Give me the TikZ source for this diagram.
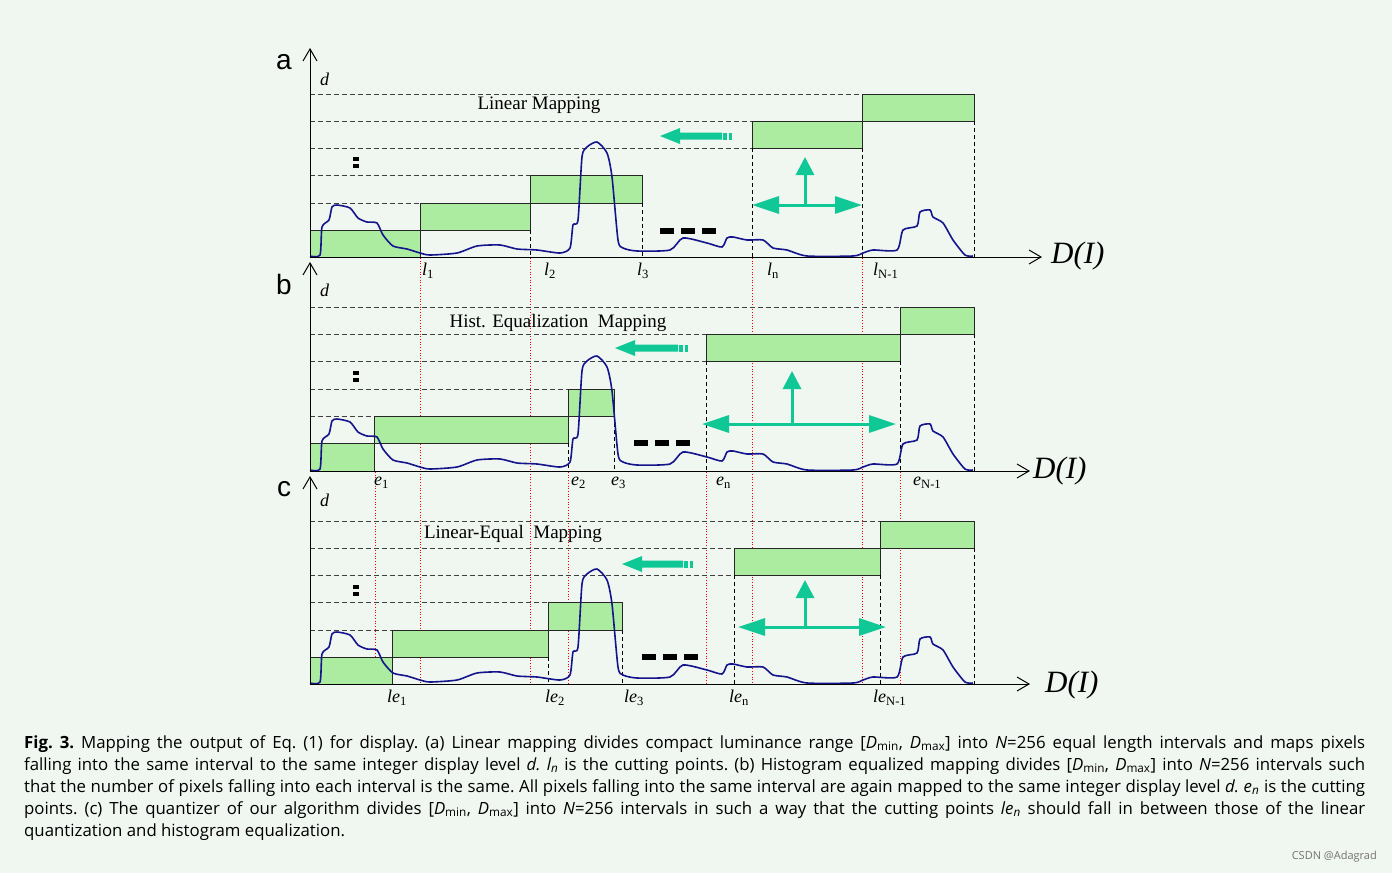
\documentclass[tikz,border=0pt]{standalone}
\usepackage{fontspec}
\setmainfont{Liberation Serif}
\newfontfamily\capfont{Open Sans}
\newfontfamily\lblfont{Liberation Sans}
\usetikzlibrary{arrows.meta}
\definecolor{bg}{RGB}{240,246,240}
\definecolor{boxg}{RGB}{172,236,160}
\definecolor{tealc}{RGB}{16,200,150}
\definecolor{curvec}{RGB}{20,20,140}
\tikzset{
 hdash/.style={black!75,dashed,dash pattern=on 5pt off 3pt,line width=0.8pt},
 vdash/.style={black,dashed,dash pattern=on 4pt off 3pt,line width=0.9pt},
 reddot/.style={red,dotted,line width=0.7pt},
 lvlbox/.style={draw=black!85,fill=boxg,line width=1pt},
 axis/.style={line width=1pt,-{Straight Barb[length=12pt,width=14pt]}},
 curve/.style={curvec,line width=1.6pt},
 lbl/.style={font=\fontsize{18}{18}\selectfont,anchor=west,inner sep=0pt},
 ttl/.style={font=\fontsize{19}{19}\selectfont,inner sep=0pt},
 dil/.style={font=\fontsize{31}{31}\selectfont\itshape,anchor=west,inner sep=0pt},
 plab/.style={font=\lblfont\fontsize{28}{28}\selectfont,inner sep=0pt},
 tarr2/.style={tealc,line width=3pt,{Triangle[length=27pt,width=17pt]}-{Triangle[length=27pt,width=17pt]}},
 tarr3/.style={tealc,line width=3pt,-{Triangle[length=18pt,width=18pt]}},
}
\newcommand{\thecurve}{plot[smooth,tension=0.4] coordinates{(310,256)(320,255)(322,227)(329,220)(332,207)(337,205)(350,208)(358,218)(367,222)(377,223)(383,235)(393,246)(407,249)(420,253)(430,255)(457,253)(477,246)(500,245)(517,249)(537,250)(560,253)(570,248)(573,225)(578,220)(582,157)(587,147)(597,142)(607,153)(612,177)(618,240)(623,248)(637,251)(670,250)(683,238)(707,243)(722,247)(727,238)(733,237)(747,240)(763,240)(773,248)(787,250)(807,256)(853,256)(863,253)(873,250)(897,250)(903,230)(917,226)(920,212)(930,210)(933,217)(943,223)(953,240)(965,255)(973,256)}}
\newcommand{\leftarr}[3]{% tip x, y, end x
 \fill[tealc] (#1,#2) -- (#1+20,#2-8) -- (#1+20,#2-3.5) -- (#3,#2-3.5) -- (#3,#2+3.5) -- (#1+20,#2+3.5) -- (#1+20,#2+8) -- cycle;
 \fill[tealc] (#3+1,#2-3.5) rectangle (#3+5,#2+3.5);
 \fill[tealc] (#3+7,#2-3.5) rectangle (#3+10,#2+3.5);}
\newcommand{\mydots}[2]{\fill (#1-3,#2-5) rectangle (#1+3,#2-1); \fill (#1-3,#2+2) rectangle (#1+3,#2+6);}
\newcommand{\hdashes}[2]{\foreach \k in {0,1,2}{\fill (#1+\k*21,#2-3) rectangle (#1+\k*21+14,#2+3);}}
\newcommand{\Dm}[1]{\textit{D}\textsubscript{#1}}
\begin{document}
\begin{tikzpicture}[x=1pt,y=-1pt]
\fill[bg] (0,0) rectangle (1392,873);
\useasboundingbox (0,0) rectangle (1392,873);
% red dotted verticals
\foreach \x in {420,530,752,862} \draw[reddot] (\x,258) -- (\x,684);
\foreach \x in {375,568,706,900} \draw[reddot] (\x,472) -- (\x,684);
% ---------------- panel a
\foreach \y/\e in {94/862,121/752,148/752,175/530,203/420} \draw[hdash] (310,\y) -- (\e,\y);
\draw[lvlbox] (310,230) rectangle (420,257);
\draw[lvlbox] (420,203) rectangle (530,230);
\draw[lvlbox] (530,175) rectangle (642,203);
\draw[lvlbox] (752,121) rectangle (862,148);
\draw[lvlbox] (862,94) rectangle (974,121);
\draw[vdash] (530,230) -- (530,257);
\draw[vdash] (642,203) -- (642,257);
\draw[vdash] (752,148) -- (752,257);
\draw[vdash] (862,148) -- (862,257);
\draw[vdash] (974,121) -- (974,257);
\draw[curve] \thecurve;
\draw[axis] (310,257) -- (310,48);
\draw[axis] (310,257) -- (1042,257);
\node[plab] (pa) at (284,62) {a};
\node[lbl] (da) at (320,79) {\itshape d};
\node[dil] (Da) at (1051,256) {D(I)};
\node[ttl] (ta) at (539,105) {Linear Mapping};
\node[lbl] (l1) at (422,271) {\textit{l}\textsubscript{1}};
\node[lbl] (l2) at (544,271) {\textit{l}\textsubscript{2}};
\node[lbl] (l3) at (637,271) {\textit{l}\textsubscript{3}};
\node[lbl] (ln) at (767,271) {\textit{l}\textsubscript{n}};
\node[lbl] (lN) at (873,271) {\textit{l}\textsubscript{N-1}};
\leftarr{660}{136}{722}
\coordinate (a1) at (752,205); \coordinate (a2) at (862,205);
\coordinate (a3) at (805,206); \coordinate (a4) at (805,157);
\draw[tarr2] (a1) -- (a2);
\draw[tarr3] (a3) -- (a4);
\mydots{356}{162}
\hdashes{660}{231}
% ---------------- panel b
\foreach \y/\e in {307/900,334/706,361/706,389/568,416/374} \draw[hdash] (310,\y) -- (\e,\y);
\draw[lvlbox] (310,443) rectangle (374,471);
\draw[lvlbox] (374,416) rectangle (568,443);
\draw[lvlbox] (568,389) rectangle (614,416);
\draw[lvlbox] (706,334) rectangle (900,361);
\draw[lvlbox] (900,307) rectangle (974,334);
\draw[vdash] (568,443) -- (568,471);
\draw[vdash] (614,416) -- (614,471);
\draw[vdash] (706,361) -- (706,471);
\draw[vdash] (900,361) -- (900,471);
\draw[vdash] (974,334) -- (974,471);
\begin{scope}[yshift=-214pt]\draw[curve] \thecurve;\end{scope}
\draw[axis] (310,471) -- (310,262);
\draw[axis] (310,471) -- (1030,471);
\node[plab] (pb) at (284,284) {b};
\node[lbl] (db) at (320,290) {\itshape d};
\node[dil] (Db) at (1033,471) {D(I)};
\node[ttl] (tb) at (558,323) {Hist. Equalization\ \ Mapping};
\node[lbl] (e1) at (374,483) {\textit{e}\textsubscript{1}};
\node[lbl] (e2) at (571,483) {\textit{e}\textsubscript{2}};
\node[lbl] (e3) at (611,483) {\textit{e}\textsubscript{3}};
\node[lbl] (en) at (716,483) {\textit{e}\textsubscript{n}};
\node[lbl] (eN) at (913,483) {\textit{e}\textsubscript{N-1}};
\leftarr{615}{348}{678}
\coordinate (b1) at (702,424); \coordinate (b2) at (896,424);
\coordinate (b3) at (792,425); \coordinate (b4) at (792,371);
\draw[tarr2] (b1) -- (b2);
\draw[tarr3] (b3) -- (b4);
\mydots{356}{376}
\hdashes{634}{443}
% ---------------- panel c
\foreach \y/\e in {521/880,548/734,575/734,602/548,630/392} \draw[hdash] (310,\y) -- (\e,\y);
\draw[lvlbox] (310,657) rectangle (392,684);
\draw[lvlbox] (392,630) rectangle (548,657);
\draw[lvlbox] (548,602) rectangle (622,630);
\draw[lvlbox] (734,548) rectangle (880,575);
\draw[lvlbox] (880,521) rectangle (974,548);
\draw[vdash] (548,657) -- (548,684);
\draw[vdash] (622,630) -- (622,684);
\draw[vdash] (734,575) -- (734,684);
\draw[vdash] (880,575) -- (880,684);
\draw[vdash] (974,548) -- (974,684);
\begin{scope}[yshift=-427pt]\draw[curve] \thecurve;\end{scope}
\draw[axis] (310,684) -- (310,476);
\draw[axis] (310,684) -- (1030,684);
\node[plab] (pc) at (284,489) {c};
\node[lbl] (dc) at (320,500) {\itshape d};
\node[dil] (Dc) at (1045,685) {D(I)};
\node[ttl] (tc) at (513,534) {Linear-Equal\ \ Mapping};
\node[lbl] (le1) at (387,698) {\textit{le}\textsubscript{1}};
\node[lbl] (le2) at (545,698) {\textit{le}\textsubscript{2}};
\node[lbl] (le3) at (624,698) {\textit{le}\textsubscript{3}};
\node[lbl] (len) at (729,698) {\textit{le}\textsubscript{n}};
\node[lbl] (leN) at (873,698) {\textit{le}\textsubscript{N-1}};
\leftarr{622}{564}{683}
\coordinate (c1) at (738,627); \coordinate (c2) at (886,627);
\coordinate (c3) at (805,628); \coordinate (c4) at (805,580);
\draw[tarr2] (c1) -- (c2);
\draw[tarr3] (c3) -- (c4);
\mydots{356}{590}
\hdashes{642}{657}
% ---------------- caption
\node[anchor=north west,inner sep=0pt,text width=1341pt,align=justify,
 font=\capfont\fontsize{16.8}{22}\selectfont\frenchspacing] (cap) at (24,735) {%
\textbf{Fig.~3.}\ Mapping the output of Eq. (1) for display. (a) Linear mapping divides compact luminance range [\Dm{min}, \Dm{max}] into \textit{N}=256 equal length intervals and maps pixels\linebreak
falling into the same interval to the same integer display level \textit{d. l\textsubscript{n}} is the cutting points. (b) Histogram equalized mapping divides [\Dm{min}, \Dm{max}] into \textit{N}=256 intervals such\linebreak
that the number of pixels falling into each interval is the same. All pixels falling into the same interval are again mapped to the same integer display level \textit{d. e\textsubscript{n}} is the cutting\linebreak
points. (c) The quantizer of our algorithm divides [\Dm{min}, \Dm{max}] into \textit{N}=256 intervals in such a way that the cutting points \textit{le\textsubscript{n}} should fall in between those of the linear\linebreak
quantization and histogram equalization.};
\node[anchor=east,inner sep=0pt,font=\capfont\fontsize{11}{11}\selectfont,text=black!55] (wm) at (1377,857) {CSDN @Adagrad};
\end{tikzpicture}
\end{document}
